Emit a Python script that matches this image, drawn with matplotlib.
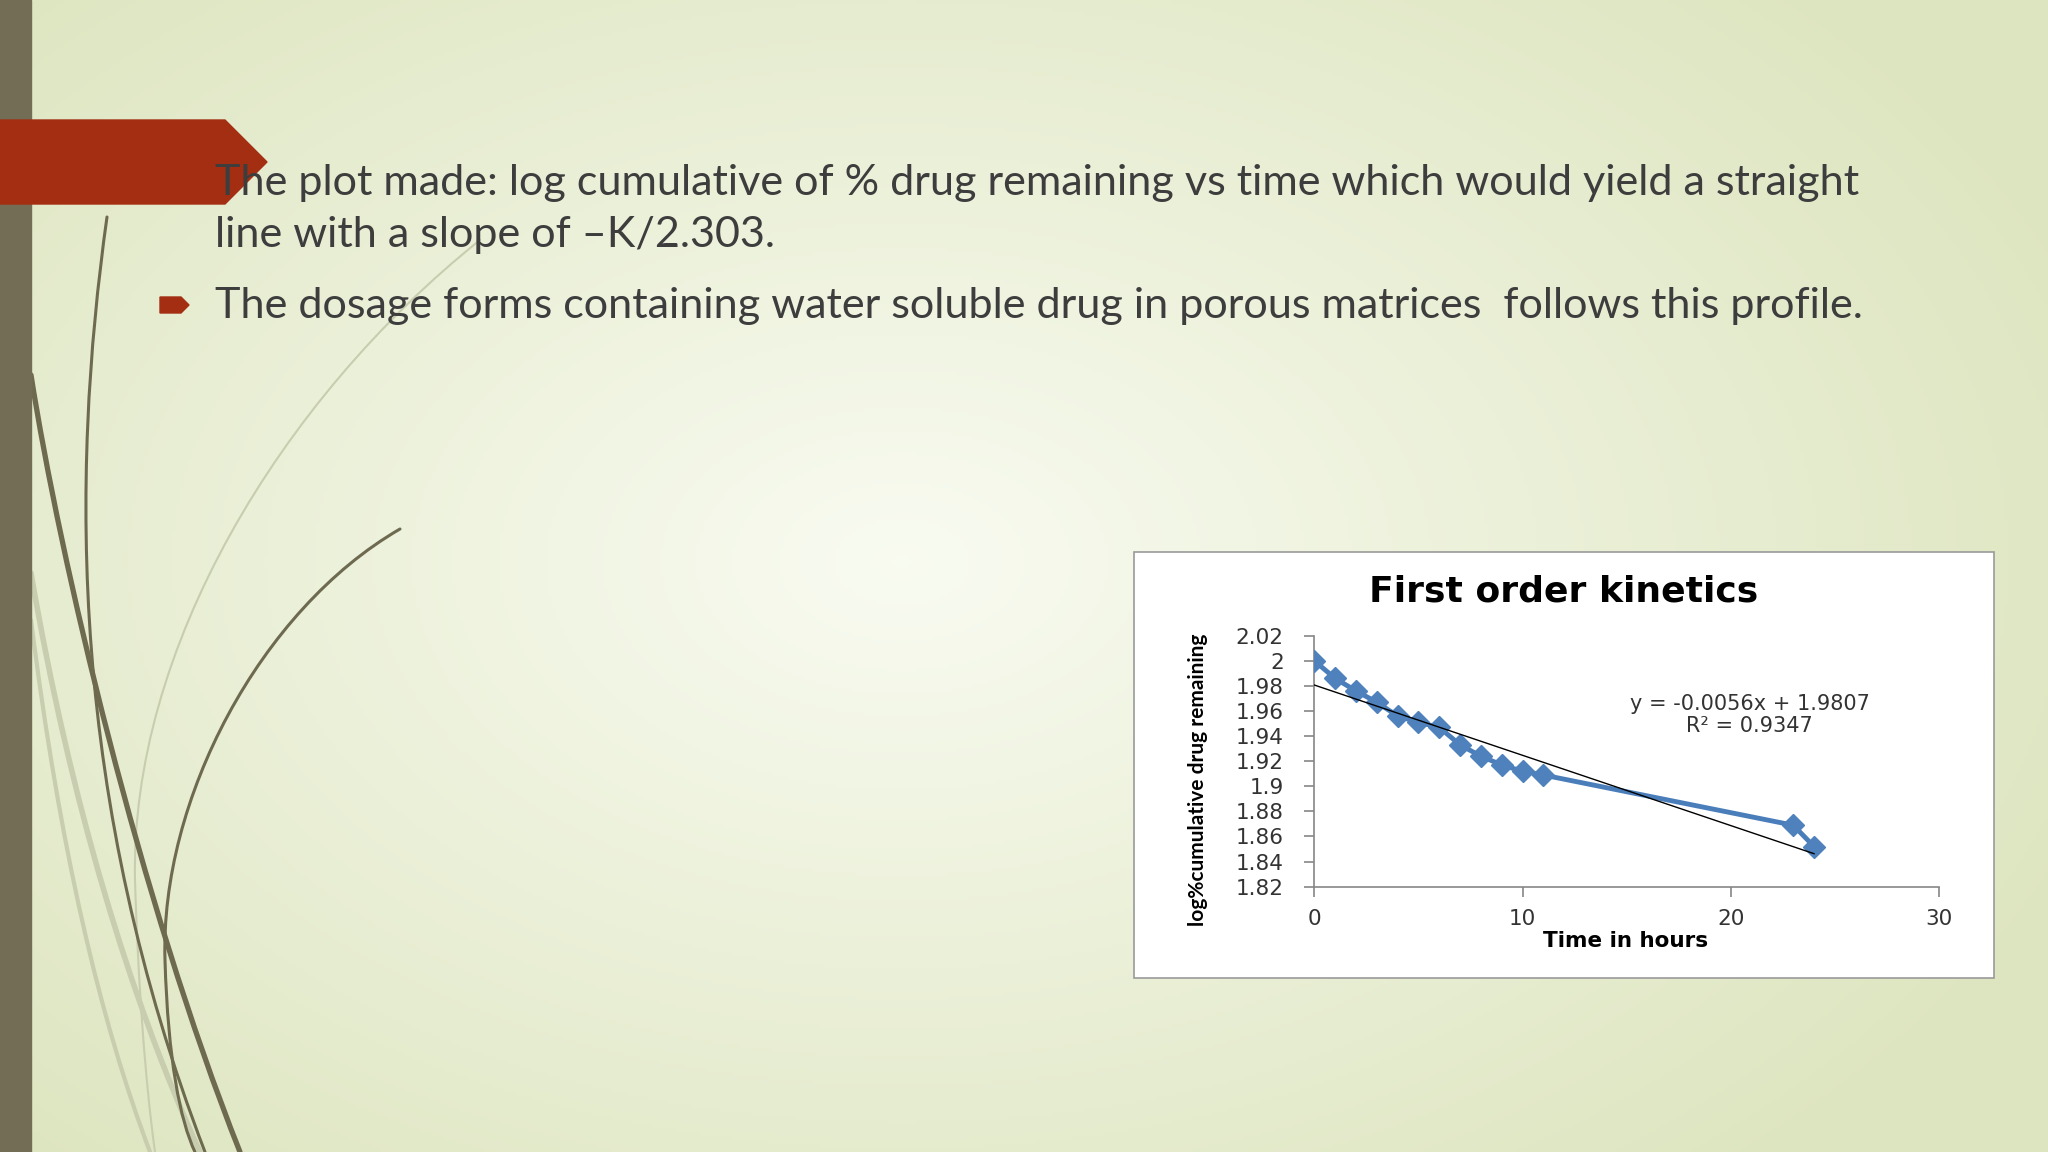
import numpy as np
import matplotlib
matplotlib.use('Agg')
import matplotlib.pyplot as plt
from matplotlib.path import Path
from matplotlib.patches import PathPatch, Polygon, Rectangle

# data
time_h = [0, 1, 2, 3, 4, 5, 6, 7, 8, 9, 10, 11, 23, 24]
log_remaining = [2.000, 1.986, 1.976, 1.967, 1.956, 1.951, 1.947, 1.933, 1.924,
                 1.917, 1.912, 1.909, 1.869, 1.852]
trend_slope = -0.0056
trend_icpt = 1.9807
y_ticks = [1.82, 1.84, 1.86, 1.88, 1.90, 1.92, 1.94, 1.96, 1.98, 2.00, 2.02]
y_tick_labels = ['1.82', '1.84', '1.86', '1.88', '1.9', '1.92', '1.94', '1.96', '1.98', '2', '2.02']
x_ticks = [0, 10, 20, 30]

line1 = "The plot made: log cumulative of % drug remaining vs time which would yield a straight"
line2 = "line with a slope of \u2013K/2.303."
bullet = "The dosage forms containing water soluble drug in porous matrices  follows this profile."

W, H = 2048, 1152
fig = plt.figure(figsize=(W / 100, H / 100), dpi=100)

# slide background in pixel coordinates
bg = fig.add_axes([0, 0, 1, 1])
bg.set_xlim(0, W)
bg.set_ylim(H, 0)
bg.axis('off')

yy, xx = np.mgrid[0:H:4, 0:W:4]
r = np.sqrt(((xx - 900) / 1250.0) ** 2 + ((yy - 560) / 800.0) ** 2)
r = np.clip(r, 0, 1)[..., None]
c_in = np.array([0.975, 0.985, 0.945])
c_out = np.array([0.87, 0.90, 0.755])
img = c_in * (1 - r) + c_out * r
bg.imshow(img, extent=[0, W, H, 0], aspect='auto', zorder=0)


def curve(pts, color, lw, z=1):
    codes = [Path.MOVETO] + [Path.CURVE4] * (len(pts) - 1)
    bg.add_patch(PathPatch(Path(pts, codes), fill=False, edgecolor=color, lw=lw,
                           capstyle='round', zorder=z))


light = '#c7cdae'
dark = '#6e6a50'
curve([(480, 240), (280, 400), (130, 650), (135, 880),
       (138, 980), (145, 1080), (155, 1152)], light, 1.5)
curve([(31, 573), (70, 800), (130, 1000), (200, 1152)], light, 4)
curve([(31, 620), (60, 850), (100, 1020), (150, 1152)], light, 3)
curve([(107, 217), (70, 480), (70, 800), (205, 1152)], dark, 2.2)
curve([(31, 375), (60, 560), (140, 900), (240, 1152)], dark, 3.8)
curve([(400, 529), (260, 610), (160, 800), (165, 960),
       (168, 1060), (180, 1120), (195, 1152)], dark, 2.2)

bg.add_patch(Rectangle((0, 0), 31, H, color='#746d55', zorder=2))
bg.add_patch(Polygon([(0, 120), (225, 120), (267, 162), (225, 204), (0, 204)],
                     closed=True, color='#a32e12', zorder=3))
bg.add_patch(Polygon([(160, 297), (181, 297), (189, 305), (181, 313), (160, 313)],
                     closed=True, color='#a32e12', zorder=3))

txt_kw = dict(family=['Lato', 'DejaVu Sans'], color='#3d3d3d', zorder=4, va='baseline', ha='left')
t1 = bg.text(215, 195, line1, fontsize=29, **txt_kw)
t2 = bg.text(215, 247, line2, fontsize=29, **txt_kw)
t3 = bg.text(215, 318, bullet, fontsize=29, **txt_kw)

# fit the body font size to the slide width of the first line
fig.canvas.draw()
w1 = t1.get_window_extent().width
fs = 29 * 1650.0 / w1
for t in (t1, t2, t3):
    t.set_fontsize(fs)

# chart box
bg.add_patch(Rectangle((1134, 552), 860, 426, facecolor='white', edgecolor='#9a9a9a',
                       lw=1.2, zorder=5))
bg.text(1564, 602, 'First order kinetics', fontsize=26, fontweight='bold',
        ha='center', va='baseline', color='black', zorder=6)
bg.text(1626, 947, 'Time in hours', fontsize=15.5, fontweight='bold',
        ha='center', va='baseline', color='black', zorder=6)
bg.text(1198, 780, 'log%cumulative drug remaining', fontsize=15, fontweight='bold',
        family=['Lato', 'DejaVu Sans'], rotation=90,
        ha='center', va='center', color='black', zorder=6)

ax = fig.add_axes([1314.3 / W, 1 - 886.7 / H, (1939 - 1314.3) / W, 251 / H], zorder=7)
ax.patch.set_alpha(0)
ax.plot(time_h, log_remaining, color='#4a7ebb', lw=3.5, marker='D', markersize=11,
        markerfacecolor='#4f81bd', markeredgecolor='#4f81bd', zorder=3)
tx = np.array([time_h[0], time_h[-1]])
ax.plot(tx, trend_slope * tx + trend_icpt, color='black', lw=1.0, zorder=4)

ax.set_xlim(0, 30)
ax.set_ylim(1.82, 2.02)
ax.set_xticks(x_ticks)
ax.set_yticks(y_ticks)
ax.set_yticklabels(y_tick_labels)
for s in ('top', 'right'):
    ax.spines[s].set_visible(False)
for s in ('left', 'bottom'):
    ax.spines[s].set_color('#868686')
    ax.spines[s].set_linewidth(1.2)
ax.tick_params(axis='both', colors='#868686', length=7, width=1.2, labelsize=15.5,
               labelcolor='#333333')
ax.tick_params(axis='y', pad=15)
ax.tick_params(axis='x', pad=9)

ax.text(0.697, 0.684, f'y = {trend_slope}x + {trend_icpt}\nR\u00b2 = 0.9347',
        transform=ax.transAxes, ha='center', va='center', fontsize=15,
        color='#333333', linespacing=1.1)

fig.savefig('out.png', dpi=100)
